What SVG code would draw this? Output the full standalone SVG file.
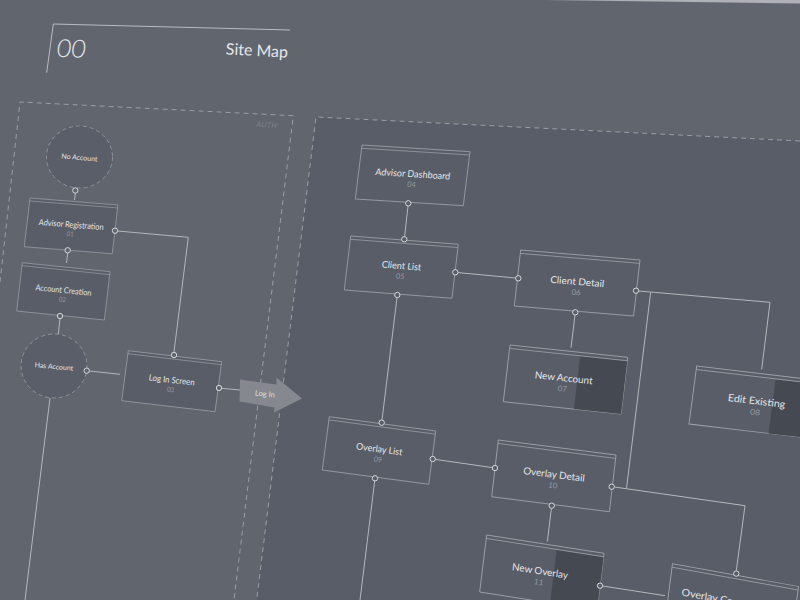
<svg xmlns="http://www.w3.org/2000/svg" width="800" height="600" viewBox="0 0 800 600">
<style>
.box{fill:#585d67;stroke:#9da1a8;stroke-width:0.9}
.hdr{stroke:#9da1a8;stroke-width:0.8}
.dark{fill:#454951}
.t{font-family:Lato,"Open Sans","Liberation Sans",sans-serif;font-size:10px;fill:#e4e6e9;text-anchor:middle}
.n{font-size:8px;fill:#959aa1}
.c{fill:none;stroke:#b4b7bc;stroke-width:1}
.dot{fill:#585d67;stroke:#d6d8db;stroke-width:1}
.dotL{fill:#60656e;stroke:#d6d8db;stroke-width:1}
.dash{fill:none;stroke:#9a9ea5;stroke-width:1;stroke-dasharray:5 4}
.circ{fill:#595e68;stroke:#8e929a;stroke-width:1;stroke-dasharray:4 3}
</style>
<rect width="800" height="600" fill="#60656e"/>
<polygon points="545,0 800,0 800,3.5" fill="#aeb1b6"/>
<!-- main panel -->
<polygon points="316,117 800,141 800,600 256.7,600" fill="#585d67"/>
<polyline class="dash" points="800,141 316,117 256.7,600"/>
<!-- auth region -->
<polyline class="dash" points="-2,300 20,102 293.3,115.7 234,600"/>
<text x="266.7" y="127.5" transform="rotate(4 266.7 125)" font-family="Lato,'Open Sans',sans-serif" font-size="7.5" font-style="italic" fill="#80848c" text-anchor="middle" letter-spacing="0.4">AUTH</text>
<!-- header -->
<g id="header">
<polyline fill="none" stroke="#b9bcc1" stroke-width="1" points="290,30 53.3,24 46.7,72.7"/>
<text x="76.7" y="57.5" transform="rotate(2 76.7 48) skewX(-6)" font-family="Lato,'Open Sans',sans-serif" font-weight="300" font-size="25" fill="#e5e7ea" text-anchor="middle">00</text>
<text x="288" y="56" transform="rotate(3 256 52)" font-family="Lato,'Open Sans',sans-serif" font-size="16" fill="#e5e7ea" text-anchor="end">Site Map</text>
</g>
<!-- connectors -->
<g id="connectors">
<polyline class="c" points="75.3,193 74.5,200"/>
<polyline class="c" points="67.7,253 66.5,263"/>
<polyline class="c" points="117.7,231 188.3,237.3 174,352"/>
<polyline class="c" points="60,318.5 58.3,334"/>
<polyline class="c" points="89.4,371 120,374.3"/>
<polyline class="c" points="50,398 25,600"/>
<polyline class="c" points="221.7,388.3 240,390"/>
<polyline class="c" points="408,206 404.6,236.5"/>
<polyline class="c" points="458,272.6 515.6,278"/>
<polyline class="c" points="575,315 571,347.7"/>
<polyline class="c" points="638.7,291 770,302.3 761.7,369.3"/>
<polyline class="c" points="650.7,292.3 626.5,488.3"/>
<polyline class="c" points="397,297.7 382,420"/>
<polyline class="c" points="435.4,459.4 492.3,467.6"/>
<polyline class="c" points="374.7,481 360,600"/>
<polyline class="c" points="551.4,508.4 547.3,541.7"/>
<polyline class="c" points="614.4,487 745,505.7 736.3,570.6"/>
<polyline class="c" points="602.7,586 665,595.7"/>
</g>
<!-- nodes -->
<g id="no-account">
<ellipse class="circ" cx="79.5" cy="157" rx="33" ry="31"/>
<text x="79.5" y="160" transform="rotate(5 79.5 157)" font-family="Lato,'Open Sans',sans-serif" font-size="7" fill="#e4e6e9" text-anchor="middle">No Account</text>
</g>
<g id="has-account">
<ellipse class="circ" cx="54" cy="366" rx="33" ry="32"/>
<text x="54" y="369" transform="rotate(5 54 366)" font-family="Lato,'Open Sans',sans-serif" font-size="7" fill="#e4e6e9" text-anchor="middle">Has Account</text>
</g>
<g id="advisor-registration" transform="matrix(0.733 0.0583 -0.0983 0.84 30 198)">
<rect class="box" width="120" height="58"/><line class="hdr" x1="0" y1="3.5" x2="120" y2="3.5"/>
<text class="t" x="60" y="31">Advisor Registration</text><text class="t n" x="60" y="41.5">01</text>
</g>
<g id="account-creation" transform="matrix(0.731 0.075 -0.0966 0.833 22.3 262.7)">
<rect class="box" width="120" height="58"/><line class="hdr" x1="0" y1="3.5" x2="120" y2="3.5"/>
<text class="t" x="60" y="31">Account Creation</text><text class="t n" x="60" y="41.5">02</text>
</g>
<g id="log-in-screen" transform="matrix(0.778 0.0917 -0.114 0.862 128.3 350.7)">
<rect class="box" width="120" height="58"/><line class="hdr" x1="0" y1="3.5" x2="120" y2="3.5"/>
<text class="t" x="60" y="31">Log In Screen</text><text class="t n" x="60" y="41.5">03</text>
</g>
<g id="log-in-arrow">
<polygon points="240,379.5 276.5,384.5 276.5,377.5 302,398.5 274,412.5 274.5,407.5 239.5,401.5" fill="#85898f"/>
<text x="265" y="396.5" transform="rotate(6 265 394)" font-family="Lato,'Open Sans',sans-serif" font-size="7.5" fill="#dcdee1" text-anchor="middle">Log In</text>
</g>
<g id="advisor-dashboard" transform="matrix(0.9 0.0558 -0.1155 0.931 362 145)">
<rect class="box" width="120" height="58"/><line class="hdr" x1="0" y1="3.5" x2="120" y2="3.5"/>
<text class="t" x="60" y="31">Advisor Dashboard</text><text class="t n" x="60" y="41.5">04</text>
</g>
<g id="client-list" transform="matrix(0.897 0.069 -0.11 0.931 350.7 236)">
<rect class="box" width="120" height="58"/><line class="hdr" x1="0" y1="3.5" x2="120" y2="3.5"/>
<text class="t" x="60" y="31">Client List</text><text class="t n" x="60" y="41.5">05</text>
</g>
<g id="client-detail" transform="matrix(0.994 0.0833 -0.11 0.966 520.7 250)">
<rect class="box" width="120" height="58"/><line class="hdr" x1="0" y1="3.5" x2="120" y2="3.5"/>
<text class="t" x="60" y="31">Client Detail</text><text class="t n" x="60" y="41.5">06</text>
</g>
<g id="new-account" transform="matrix(0.981 0.1025 -0.1155 0.978 510 345)">
<rect class="box" width="120" height="58"/><rect class="dark" x="72" y="4" width="48" height="54"/><line class="hdr" x1="0" y1="3.5" x2="120" y2="3.5"/>
<text class="t" x="58" y="31">New Account</text><text class="t n" x="58" y="41.5">07</text>
</g>
<g id="edit-existing" transform="matrix(1.06 0.125 -0.133 1 696.7 366)">
<rect class="box" width="120" height="58"/><rect class="dark" x="75" y="4" width="45" height="54"/><line class="hdr" x1="0" y1="3.5" x2="120" y2="3.5"/>
<text class="t" x="60" y="31">Edit Existing</text><text class="t n" x="60" y="41.5">08</text>
</g>
<g id="overlay-list" transform="matrix(0.887 0.119 -0.1207 0.919 329.3 416.7)">
<rect class="box" width="120" height="58"/><line class="hdr" x1="0" y1="3.5" x2="120" y2="3.5"/>
<text class="t" x="60" y="31">Overlay List</text><text class="t n" x="60" y="41.5">09</text>
</g>
<g id="overlay-detail" transform="matrix(0.981 0.125 -0.114 0.978 498.3 440)">
<rect class="box" width="120" height="58"/><line class="hdr" x1="0" y1="3.5" x2="120" y2="3.5"/>
<text class="t" x="60" y="31">Overlay Detail</text><text class="t n" x="60" y="41.5">10</text>
</g>
<g id="new-overlay" transform="matrix(0.978 0.1525 -0.121 0.983 486.7 535)">
<rect class="box" width="120" height="58"/><rect class="dark" x="72" y="4" width="48" height="54"/><line class="hdr" x1="0" y1="3.5" x2="120" y2="3.5"/>
<text class="t" x="58" y="31">New Overlay</text><text class="t n" x="58" y="41.5">11</text>
</g>
<g id="overlay-co" transform="matrix(1.05 0.19 -0.13 1 672.5 563.7)">
<rect class="box" width="120" height="58"/><line class="hdr" x1="0" y1="3.5" x2="120" y2="3.5"/>
<text class="t" x="12" y="29.5" style="text-anchor:start">Overlay Co</text>
</g>
<!-- connection dots -->
<g id="dots">
<circle class="dotL" cx="75.3" cy="190.5" r="2.7"/>
<circle class="dotL" cx="67.7" cy="250.3" r="2.7"/>
<circle class="dotL" cx="115" cy="230.7" r="2.7"/>
<circle class="dotL" cx="60" cy="316" r="2.7"/>
<circle class="dotL" cx="86.7" cy="370.7" r="2.7"/>
<circle class="dotL" cx="174" cy="355" r="2.7"/>
<circle class="dotL" cx="219" cy="388" r="2.7"/>
<circle class="dot" cx="408.3" cy="203.3" r="2.7"/>
<circle class="dot" cx="404.3" cy="239.3" r="2.7"/>
<circle class="dot" cx="455.3" cy="272.3" r="2.7"/>
<circle class="dot" cx="397.3" cy="295" r="2.7"/>
<circle class="dot" cx="518.3" cy="278.3" r="2.7"/>
<circle class="dot" cx="636" cy="290.7" r="2.7"/>
<circle class="dot" cx="575.3" cy="312.3" r="2.7"/>
<circle class="dot" cx="381.7" cy="422.7" r="2.7"/>
<circle class="dot" cx="432.7" cy="459" r="2.7"/>
<circle class="dot" cx="375" cy="478.3" r="2.7"/>
<circle class="dot" cx="495" cy="468" r="2.7"/>
<circle class="dot" cx="551.7" cy="505.7" r="2.7"/>
<circle class="dot" cx="611.7" cy="486.7" r="2.7"/>
<circle class="dot" cx="600" cy="585.7" r="2.7"/>
<circle class="dot" cx="736.3" cy="573.6" r="2.7"/>
</g>
</svg>
